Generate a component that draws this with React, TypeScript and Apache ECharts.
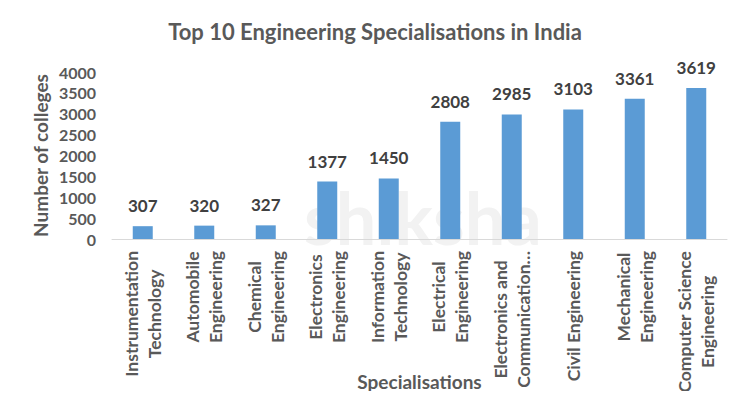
import React, { useEffect, useRef } from "react";
import * as echarts from "echarts";

const categories: string[] = [
  "Instrumentation\nTechnology",
  "Automobile\nEngineering",
  "Chemical\nEngineering",
  "Electronics\nEngineering",
  "Information\nTechnology",
  "Electrical\nEngineering",
  "Electronics and\nCommunication…",
  "Civil Engineering",
  "Mechanical\nEngineering",
  "Computer Science\nEngineering",
];
const colleges: number[] = [307, 320, 327, 1377, 1450, 2808, 2985, 3103, 3361, 3619];

const titleText = "Top 10 Engineering Specialisations in India";
const xName = "Specialisations";
const yName = "Number of colleges";
const watermark = "shiksha";

const FONT = "Lato, 'Open Sans', sans-serif";

export default function App() {
  const ref = useRef<HTMLDivElement>(null);
  useEffect(() => {
    if (!ref.current) return;
    const chart = echarts.init(ref.current, undefined, { renderer: "svg" });
    chart.setOption({
      animation: false,
      backgroundColor: "#ffffff",
      textStyle: { fontFamily: FONT },
      title: {
        text: titleText,
        left: "center",
        top: 15,
        textStyle: { fontFamily: FONT, fontWeight: "bold", fontSize: 22, color: "#595959" },
      },
      graphic: [
        {
          type: "text",
          left: 304,
          top: 181,
          z: -10,
          silent: true,
          style: {
            text: watermark,
            fontFamily: FONT,
            fontWeight: "bold",
            fontSize: 72,
            fill: "#f2f2f2",
          },
        },
      ],
      grid: {
        left: 112,
        right: 23,
        top: 72,
        bottom: 160,
        containLabel: false,
        outerBoundsMode: "none",
      },
      xAxis: {
        type: "category",
        data: categories,
        name: xName,
        nameLocation: "middle",
        nameGap: 133,
        nameMoveOverlap: false,
        nameTextStyle: { fontFamily: FONT, fontWeight: "bold", fontSize: 19, color: "#595959" },
        axisLine: { lineStyle: { color: "#d9d9d9", width: 1 } },
        axisTick: { show: false },
        axisLabel: {
          interval: 0,
          rotate: 90,
          margin: 12,
          fontFamily: FONT,
          fontWeight: "bold",
          fontSize: 17.5,
          color: "#595959",
          lineHeight: 23,
          formatter: (v: string) =>
            v
              .split("\n")
              .map((s) => `{a|${s}}`)
              .join("\n"),
          rich: {
            a: {
              align: "center",
              fontFamily: FONT,
              fontWeight: "bold",
              fontSize: 17.5,
              color: "#595959",
              lineHeight: 23,
            },
          },
        },
      },
      yAxis: {
        type: "value",
        min: 0,
        max: 4000,
        interval: 500,
        name: yName,
        nameLocation: "middle",
        nameGap: 62,
        nameMoveOverlap: false,
        nameTextStyle: { fontFamily: FONT, fontWeight: "bold", fontSize: 19, color: "#595959" },
        axisLine: { show: false },
        axisTick: { show: false },
        splitLine: { show: false },
        axisLabel: {
          margin: 16,
          fontFamily: FONT,
          fontWeight: "bold",
          fontSize: 16,
          color: "#595959",
          formatter: (v: number) => String(v),
        },
      },
      series: [
        {
          type: "bar",
          data: colleges,
          barWidth: 20,
          itemStyle: { color: "#5B9BD5" },
          label: {
            show: true,
            position: "top",
            distance: 12,
            fontFamily: FONT,
            fontWeight: "bold",
            fontSize: 17,
            color: "#404040",
          },
        },
      ],
    });
    return () => chart.dispose();
  }, []);
  return <div ref={ref} style={{ width: 750, height: 399, margin: -8 }} />;
}
